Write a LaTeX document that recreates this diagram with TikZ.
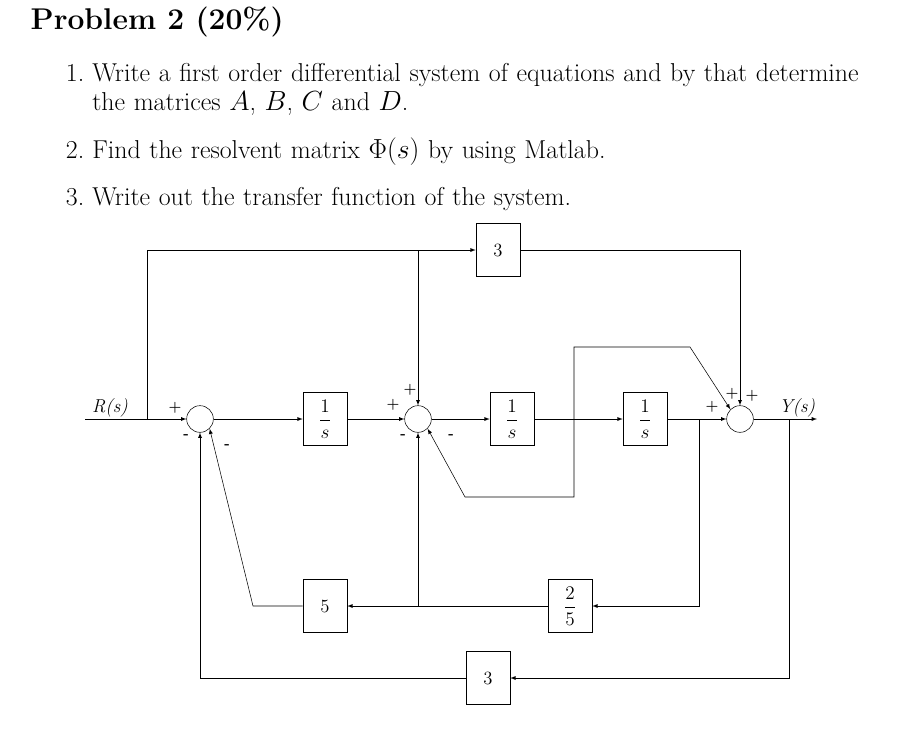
\documentclass[tikz,border=0pt]{standalone}
\usepackage{amsmath}
\usepackage{enumitem}
\usetikzlibrary{positioning}
\begin{document}
\begin{tikzpicture}[
    x=0.75pt, y=-0.75pt,
    >=latex,
    blk/.style = {draw, minimum width=33pt, minimum height=40pt, inner sep=0pt, font=\fontsize{14}{16}\selectfont},
    sum/.style = {draw, circle, minimum size=20pt, inner sep=0pt},
    sgn/.style = {font=\fontsize{11}{12}\selectfont\bfseries, inner sep=0pt}
  ]
    \useasboundingbox (0,0) rectangle (920,732);
    % problem text
    \node[anchor=west, font=\fontsize{22.5}{26}\selectfont\bfseries] (title) at (26,22) {Problem 2 (20\%)};
    \node[anchor=north west, text width=623pt, inner sep=0pt, font=\fontsize{19.4}{21.8}\selectfont] (list) at (52,52) {%
      \begin{enumerate}[leftmargin=30pt, labelsep=6pt, itemsep=10pt, topsep=0pt]
        \item Write a first order differential system of equations and by that determine the matrices $A$, $B$, $C$ and $D$.
        \item Find the resolvent matrix $\Phi(s)$ by using Matlab.
        \item Write out the transfer function of the system.
      \end{enumerate}};
    % blocks and summers
    \node[sum] (s1) at (200,419) {};
    \node[blk] (g1) at (325,419) {$\dfrac{1}{s}$};
    \node[sum] (s2) at (418,419) {};
    \node[blk] (g2) at (512,419) {$\dfrac{1}{s}$};
    \node[blk] (g3) at (645,419) {$\dfrac{1}{s}$};
    \node[sum] (s3) at (740,419) {};
    \node[blk] (k3) at (498,250) {3};
    \node[blk] (k25) at (570,606) {$\dfrac{2}{5}$};
    \node[blk] (k5) at (325,606) {5};
    \node[blk] (k3b) at (488,678) {3};
    \node[anchor=south, font=\fontsize{14}{16}\selectfont\itshape, inner sep=1pt] (r) at (110,419) {R(s)};
    \coordinate (rin) at (85,419);
    \coordinate (yout) at (817,419);
    \node[anchor=south, font=\fontsize{14}{16}\selectfont\itshape, inner sep=1pt] (y) at (797,419) {Y(s)};
    % helper points
    \coordinate (rtap) at (147,419);
    \coordinate (topl) at (147,250);
    \coordinate (topm) at (418,250);
    \coordinate (topr) at (740,250);
    \coordinate (m2) at (574,419);
    \coordinate (m2a) at (574,347);
    \coordinate (m2b) at (690,347);
    \coordinate (m2c) at (574,497);
    \coordinate (m2d) at (465,497);
    \coordinate (m3) at (699,419);
    \coordinate (m3a) at (699,606);
    \coordinate (m5) at (418,606);
    \coordinate (m5a) at (253,606);
    \coordinate (yt) at (789,419);
    \coordinate (yta) at (789,678);
    \coordinate (b1) at (200,678);
    % forward path
    \draw[->] (rin) -- (s1);
    \draw[->] (s1) -- (g1);
    \draw[->] (g1) -- (s2);
    \draw[->] (s2) -- (g2);
    \draw[->] (g2) -- (g3);
    \draw[->] (g3) -- (s3);
    \draw[->] (s3) -- (yout);
    % feedforward
    \draw[->] (rtap) -- (topl) -- (k3);
    \draw[->] (k3) -- (topr) -- (s3);
    \draw[->] (topm) -- (s2);
    \draw[->] (m2) -- (m2a) -- (m2b) -- (s3.north west);
    \draw[->] (m2) -- (m2c) -- (m2d) -- (s2.south east);
    % feedback
    \draw[->] (m3) -- (m3a) -- (k25);
    \draw[->] (k25) -- (k5);
    \draw[->] (m5) -- (s2);
    \draw[->] (k5) -- (m5a) -- (s1.south east);
    \draw[->] (yt) -- (yta) -- (k3b);
    \draw[->] (k3b) -- (b1) -- (s1);
    % signs
    \node[sgn] at (175,408) {+};
    \node[sgn] at (186,437) {-};
    \node[sgn] at (227,447) {-};
    \node[sgn] at (393,405) {+};
    \node[sgn] at (410,390) {+};
    \node[sgn] at (403,437) {-};
    \node[sgn] at (451,437) {-};
    \node[sgn] at (712,407) {+};
    \node[sgn] at (732,394) {+};
    \node[sgn] at (752,396) {+};
\end{tikzpicture}
\end{document}
